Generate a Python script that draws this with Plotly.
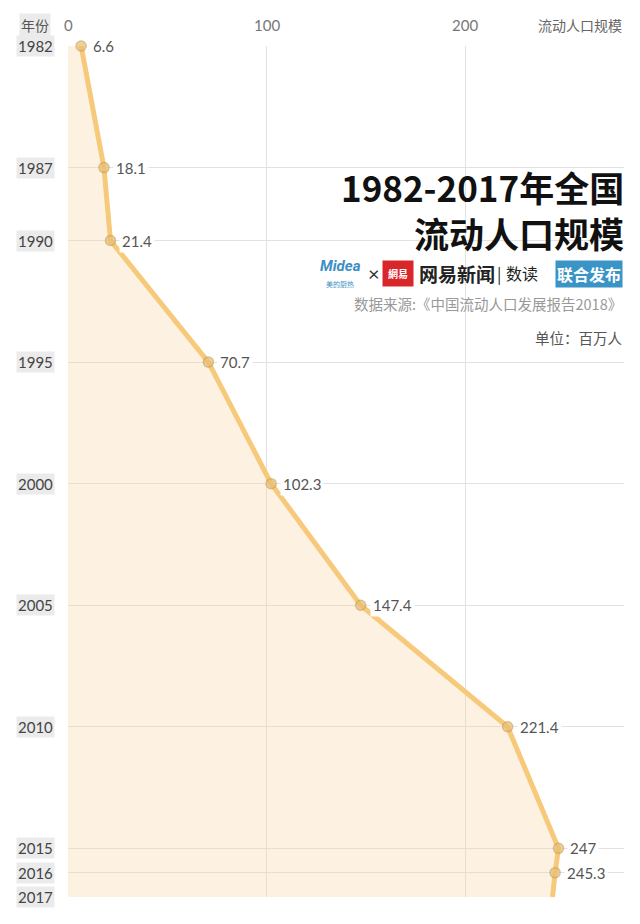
import plotly.graph_objects as go

years = [1982, 1987, 1990, 1995, 2000, 2005, 2010, 2015, 2016, 2017]
values = [6.6, 18.1, 21.4, 70.7, 102.3, 147.4, 221.4, 247, 245.3, 244.0]
labels = ["6.6", "18.1", "21.4", "70.7", "102.3", "147.4", "221.4", "247", "245.3", ""]
x_ticks = [0, 100, 200]

W, H = 640, 924
L, R, T, B = 68, 16, 46, 27
PX0, PX1 = L, W - R
PY0, PY1 = T, H - B

def px(x):
    return (x - PX0) / (PX1 - PX0)

def py(y):
    return (PY1 - y) / (PY1 - PY0)

FONT = "Lato, 'Noto Sans CJK SC', sans-serif"
CJK = "'Noto Sans CJK SC', sans-serif"

fig = go.Figure()
fig.add_trace(go.Scatter(
    x=values, y=years, mode="lines+markers",
    fill="tozerox", fillcolor="rgba(248,212,160,0.30)",
    line=dict(color="rgb(247,201,122)", width=5),
    marker=dict(size=[10] * (len(years) - 1) + [0], color="rgb(232,190,116)",
                line=dict(color="rgb(204,164,92)", width=1.5)),
    hoverinfo="skip", showlegend=False, cliponaxis=False,
))

ann = []

def A(**kw):
    kw.setdefault("showarrow", False)
    kw.setdefault("xanchor", "center")
    kw.setdefault("yanchor", "middle")
    ann.append(kw)

for y, v, t in zip(years, values, labels):
    if t:
        A(x=v, y=y, xref="x", yref="y", text=t, xanchor="left", xshift=9,
          bgcolor="white", borderpad=2, font=dict(family=FONT, size=15, color="#555"))
    A(x=px(35), y=y, xref="paper", yref="y", text=str(y), bgcolor="#ebebeb", borderpad=1,
      font=dict(family=FONT, size=15, color="#444"))

A(x=px(35), y=py(25), xref="paper", yref="paper", text="年份",
  bgcolor="#ebebeb", borderpad=1, font=dict(family=CJK, size=14, color="#555"))
A(x=px(624), y=py(25), xref="paper", yref="paper", text="流动人口规模", xanchor="right",
  font=dict(family=CJK, size=14, color="#666"))
for xt in x_ticks:
    A(x=xt, y=py(25), xref="x", yref="paper", text=str(xt),
      font=dict(family=FONT, size=15, color="#777"))

A(x=px(626), y=py(186), xref="paper", yref="paper", text="<b>1982-2017年全国</b>",
  xanchor="right", font=dict(family=CJK, size=35, color="#111"))
A(x=px(626), y=py(232), xref="paper", yref="paper", text="<b>流动人口规模</b>",
  xanchor="right", font=dict(family=CJK, size=35, color="#111"))

# logos row
A(x=px(340), y=py(266), xref="paper", yref="paper", text="<b><i>Midea</i></b>",
  font=dict(family="Roboto", size=15, color="#3b8fc4"))
A(x=px(340), y=py(284), xref="paper", yref="paper", text="美的厨热",
  font=dict(family=CJK, size=7, color="#3b8fc4"))
A(x=px(374), y=py(273), xref="paper", yref="paper", text="×",
  font=dict(family=FONT, size=20, color="#333"))
A(x=px(398), y=py(273), xref="paper", yref="paper", text="<b>網易</b>",
  bgcolor="#d8262b", borderpad=5, font=dict(family=CJK, size=10, color="white"))
A(x=px(417), y=py(273), xref="paper", yref="paper", text="<b>网易新闻</b>",
  xanchor="left", font=dict(family=CJK, size=19, color="#222"))
A(x=px(499), y=py(273), xref="paper", yref="paper", text="|",
  font=dict(family=CJK, size=16, color="#222"))
A(x=px(504), y=py(273), xref="paper", yref="paper", text="数读",
  xanchor="left", font=dict(family=CJK, size=16, color="#222"))
A(x=px(623), y=py(274), xref="paper", yref="paper", text="<b>联合发布</b>",
  xanchor="right", bgcolor="#3a94c6", borderpad=1,
  font=dict(family=CJK, size=16, color="white"))
A(x=px(624), y=py(303), xref="paper", yref="paper",
  text="数据来源:《中国流动人口发展报告2018》", xanchor="right",
  font=dict(family=CJK, size=14.5, color="#999"))
A(x=px(624), y=py(337), xref="paper", yref="paper", text="单位：百万人",
  xanchor="right", font=dict(family=CJK, size=14.5, color="#555"))

fig.update_layout(
    width=W, height=H, margin=dict(l=L, r=R, t=T, b=B),
    paper_bgcolor="white", plot_bgcolor="white",
    annotations=ann,
    xaxis=dict(range=[0, 280], side="top", tickvals=x_ticks, showticklabels=False,
               showgrid=True, gridcolor="#e2e2e2", gridwidth=1, zeroline=False,
               showline=False, fixedrange=True),
    yaxis=dict(range=[2017, 1982], tickvals=years, showticklabels=False,
               showgrid=True, gridcolor="#e2e2e2", gridwidth=1, zeroline=False,
               showline=False, fixedrange=True),
)

fig.write_html("out.html")
